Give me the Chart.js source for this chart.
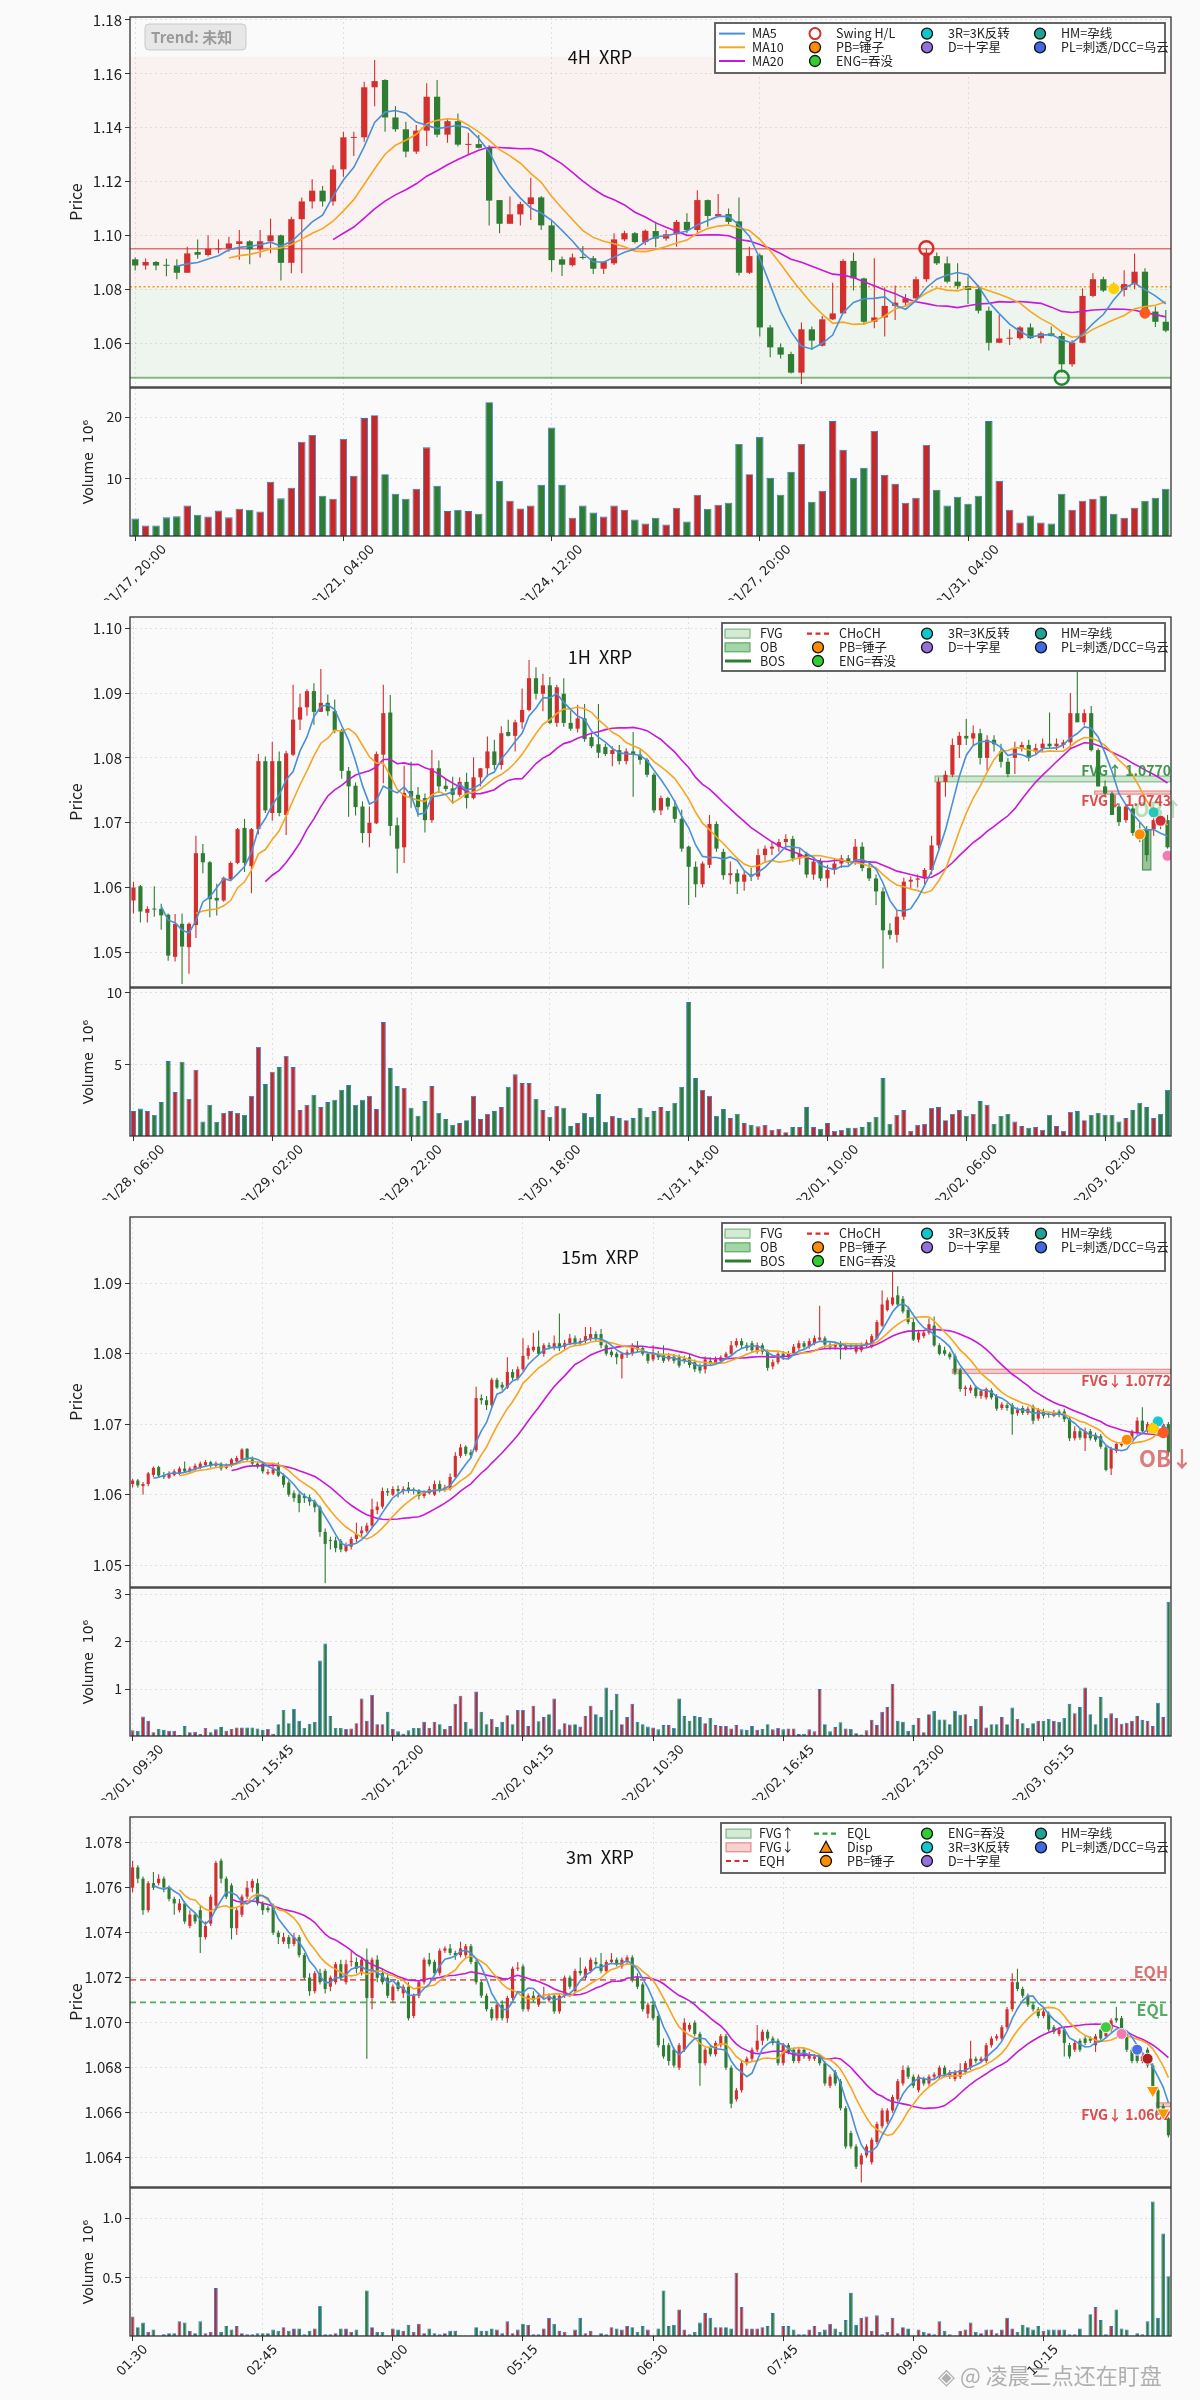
<!DOCTYPE html>
<html><head><meta charset="utf-8">
<script src="https://cdn.jsdelivr.net/npm/chart.js@4.4.1/dist/chart.umd.min.js"></script>
<style>
html,body{margin:0;padding:0;background:#fafafa;}
#wrap{position:relative;width:1200px;height:2400px;overflow:hidden;background:#fafafa;}
.panel{position:absolute;left:0;width:1200px;height:600px;overflow:hidden;}
.panel canvas{position:absolute;left:0;}
#wm{position:absolute;left:938px;top:2358px;font:22px "Noto Sans CJK SC";color:rgba(150,150,150,0.75);white-space:nowrap;z-index:5;}
</style></head><body>
<div id="wrap"></div>
<script>
// ================= DATA =================
// 4H candles [open, high, low, close]
const c4H = [
[1.0911,1.0918,1.0869,1.0888],[1.0888,1.0914,1.0872,1.0901],[1.0901,1.0905,1.0870,1.0888],[1.0889,1.0913,1.0848,1.0887],[1.0888,1.0911,1.0837,1.0861],
[1.0861,1.0958,1.0861,1.0933],[1.0938,1.0985,1.0913,1.0928],[1.0927,1.1000,1.0921,1.0950],[1.0948,1.0985,1.0933,1.0951],[1.0951,1.0995,1.0939,1.0970],
[1.0968,1.1020,1.0909,1.0978],[1.0978,1.0982,1.0893,1.0948],[1.0948,1.1020,1.0918,1.0978],[1.0978,1.1062,1.0933,1.1000],[1.1000,1.1003,1.0832,1.0898],
[1.0898,1.1069,1.0859,1.1060],[1.1060,1.1141,1.0859,1.1126],[1.1126,1.1208,1.1100,1.1166],[1.1166,1.1183,1.1107,1.1126],[1.1126,1.1260,1.1110,1.1245],
[1.1245,1.1385,1.1218,1.1364],[1.1362,1.1385,1.1295,1.1364],[1.1364,1.1571,1.1348,1.1550],[1.1550,1.1651,1.1480,1.1573],[1.1577,1.1580,1.1385,1.1438],
[1.1438,1.1480,1.1385,1.1394],[1.1394,1.1422,1.1290,1.1311],[1.1311,1.1410,1.1302,1.1389],[1.1389,1.1565,1.1332,1.1515],[1.1515,1.1577,1.1364,1.1374],
[1.1374,1.1435,1.1344,1.1424],[1.1424,1.1453,1.1330,1.1337],[1.1336,1.1381,1.1298,1.1338],[1.1339,1.1373,1.1323,1.1325],[1.1325,1.1335,1.1037,1.1129],
[1.1131,1.1131,1.1008,1.1043],[1.1043,1.1144,1.1043,1.1078],[1.1078,1.1125,1.1037,1.1116],[1.1116,1.1214,1.1057,1.1141],[1.1141,1.1146,1.1020,1.1037],
[1.1037,1.1057,1.0865,1.0908],[1.0911,1.0921,1.0849,1.0891],[1.0889,1.0933,1.0884,1.0918],[1.0920,1.0960,1.0910,1.0916],[1.0915,1.0923,1.0856,1.0876],
[1.0876,1.0905,1.0856,1.0901],[1.0896,1.1008,1.0890,1.0985],[1.0985,1.1017,1.0978,1.1008],[1.1008,1.1012,1.0970,1.0975],[1.0975,1.1022,1.0964,1.1017],
[1.1016,1.1051,1.0956,1.0988],[1.0988,1.1020,1.0980,1.1004],[1.1004,1.1057,1.0958,1.1050],[1.1050,1.1082,1.1008,1.1020],[1.1020,1.1168,1.1008,1.1131],
[1.1131,1.1133,1.1032,1.1072],[1.1072,1.1154,1.1070,1.1079],[1.1079,1.1100,1.1042,1.1050],[1.1052,1.1141,1.0851,1.0861],[1.0861,1.0958,1.0856,1.0923],
[1.0926,1.0933,1.0624,1.0658],[1.0658,1.0667,1.0547,1.0584],[1.0584,1.0598,1.0543,1.0557],[1.0559,1.0568,1.0487,1.0490],[1.0490,1.0676,1.0448,1.0651],
[1.0651,1.0661,1.0574,1.0609],[1.0590,1.0700,1.0587,1.0688],[1.0688,1.0824,1.0686,1.0710],[1.0710,1.0911,1.0708,1.0905],[1.0905,1.0936,1.0795,1.0840],
[1.0840,1.0843,1.0667,1.0679],[1.0679,1.0915,1.0655,1.0695],[1.0695,1.0807,1.0624,1.0738],[1.0738,1.0814,1.0686,1.0750],[1.0750,1.0782,1.0735,1.0766],
[1.0766,1.0847,1.0760,1.0837],[1.0837,1.0952,1.0828,1.0936],[1.0923,1.0936,1.0890,1.0896],[1.0896,1.0921,1.0822,1.0828],[1.0828,1.0896,1.0800,1.0812],
[1.0812,1.0847,1.0745,1.0797],[1.0800,1.0816,1.0710,1.0720],[1.0720,1.0735,1.0572,1.0601],[1.0601,1.0704,1.0599,1.0617],[1.0616,1.0651,1.0593,1.0618],
[1.0618,1.0663,1.0612,1.0658],[1.0658,1.0673,1.0615,1.0618],[1.0618,1.0643,1.0599,1.0636],[1.0636,1.0661,1.0624,1.0626],[1.0626,1.0636,1.0490,1.0521],
[1.0521,1.0611,1.0512,1.0601],[1.0601,1.0803,1.0599,1.0775],[1.0775,1.0859,1.0770,1.0837],[1.0837,1.0846,1.0790,1.0795],[1.0800,1.0825,1.0795,1.0797],
[1.0797,1.0870,1.0773,1.0819],[1.0819,1.0933,1.0800,1.0865],[1.0865,1.0878,1.0705,1.0717],[1.0717,1.0736,1.0660,1.0679],[1.0679,1.0723,1.0640,1.0646]
];
const v4H = [3.55,2.42,2.42,3.76,3.92,5.65,4.19,3.87,4.84,3.76,5.16,5.0,4.68,9.52,6.83,8.55,16.0,17.1,7.26,6.77,
16.45,10.48,19.84,20.3,10.75,7.58,6.77,8.39,15.1,8.87,4.78,5.0,4.78,4.35,22.4,9.68,6.45,5.2,5.65,9.03,
18.3,9.03,3.7,5.65,4.52,3.87,5.65,5.0,3.39,2.74,3.7,2.58,5.32,3.06,7.42,5.16,5.81,6.13,15.65,10.75,
16.8,10.16,7.42,11.13,15.65,6.29,8.06,19.35,14.68,10.16,11.77,17.74,10.65,9.19,6.13,6.94,15.48,8.23,5.65,7.1,
5.97,7.26,19.35,9.68,5.0,2.9,4.03,2.9,2.74,7.58,5.0,6.45,6.77,7.26,4.35,3.7,5.32,6.45,6.94,8.39];
const x4H = ['01/17, 20:00','01/21, 04:00','01/24, 12:00','01/27, 20:00','01/31, 04:00'];
const yr4H = [1.04367, 1.18111], yt4H = [1.06,1.08,1.10,1.12,1.14,1.16,1.18];
const vr4H = [0.73, 24.7], vt4H = [10, 20];
const zone4H = [1.1664, 1.0809, 1.0471];          // premium top, equilibrium, discount bottom
const lvl4H = [1.0950, 1.0809, 1.0471];           // swing high line, equilibrium, swing low line
const mk4H = [{i:76,p:1.0952,k:'SH'},{i:89,p:1.0471,k:'SL'},{i:94,p:1.0802,k:'Y'},{i:97,p:1.0711,k:'OR'}];

// 1H candles
const c1H = [
[1.0580,1.0609,1.0560,1.0600],[1.0602,1.0604,1.0546,1.0563],[1.0561,1.0571,1.0546,1.0567],[1.0567,1.0602,1.0555,1.0566],[1.0567,1.0575,1.0535,1.0557],
[1.0558,1.0560,1.0487,1.0495],[1.0493,1.0559,1.0486,1.0544],[1.0544,1.0560,1.0451,1.0509],[1.0508,1.0546,1.0467,1.0544],[1.0542,1.0680,1.0522,1.0653],
[1.0653,1.0667,1.0622,1.0639],[1.0639,1.0641,1.0554,1.0582],[1.0584,1.0606,1.0557,1.0580],[1.0580,1.0617,1.0578,1.0615],[1.0613,1.0640,1.0611,1.0638],
[1.0638,1.0692,1.0636,1.0690],[1.0692,1.0706,1.0624,1.0638],[1.0633,1.0692,1.0591,1.0690],[1.0690,1.0806,1.0682,1.0795],[1.0795,1.0802,1.0715,1.0719],
[1.0715,1.0825,1.0703,1.0795],[1.0795,1.0810,1.0710,1.0715],[1.0712,1.0811,1.0681,1.0807],[1.0805,1.0913,1.0803,1.0859],[1.0859,1.0899,1.0843,1.0878],
[1.0878,1.0906,1.0865,1.0903],[1.0903,1.0915,1.0851,1.0871],[1.0871,1.0937,1.0871,1.0885],[1.0885,1.0898,1.0865,1.0872],[1.0872,1.0890,1.0838,1.0842],
[1.0842,1.0845,1.0768,1.0780],[1.0780,1.0786,1.0709,1.0756],[1.0757,1.0762,1.0711,1.0724],[1.0725,1.0733,1.0669,1.0684],[1.0684,1.0725,1.0662,1.0700],
[1.0699,1.0810,1.0698,1.0806],[1.0805,1.0913,1.0761,1.0869],[1.0870,1.0897,1.0680,1.0695],[1.0696,1.0708,1.0622,1.0660],[1.0662,1.0788,1.0638,1.0746],
[1.0749,1.0794,1.0723,1.0740],[1.0743,1.0755,1.0709,1.0724],[1.0738,1.0745,1.0685,1.0704],[1.0704,1.0812,1.0700,1.0784],[1.0784,1.0796,1.0746,1.0756],
[1.0757,1.0768,1.0748,1.0752],[1.0753,1.0771,1.0729,1.0743],[1.0743,1.0770,1.0740,1.0763],[1.0763,1.0777,1.0722,1.0738],[1.0738,1.0801,1.0736,1.0770],
[1.0770,1.0784,1.0756,1.0784],[1.0784,1.0833,1.0771,1.0810],[1.0810,1.0828,1.0782,1.0789],[1.0789,1.0849,1.0782,1.0838],[1.0840,1.0859,1.0833,1.0834],
[1.0834,1.0859,1.0810,1.0855],[1.0855,1.0907,1.0845,1.0874],[1.0874,1.0951,1.0872,1.0923],[1.0923,1.0940,1.0890,1.0899],[1.0899,1.0930,1.0872,1.0912],
[1.0912,1.0925,1.0852,1.0854],[1.0854,1.0913,1.0848,1.0909],[1.0899,1.0923,1.0848,1.0854],[1.0854,1.0873,1.0842,1.0845],[1.0845,1.0882,1.0839,1.0861],
[1.0861,1.0883,1.0825,1.0829],[1.0832,1.0838,1.0815,1.0818],[1.0821,1.0883,1.0800,1.0808],[1.0817,1.0822,1.0803,1.0806],[1.0806,1.0818,1.0787,1.0812],
[1.0812,1.0820,1.0790,1.0795],[1.0795,1.0815,1.0790,1.0810],[1.0810,1.0840,1.0740,1.0805],[1.0805,1.0812,1.0790,1.0797],[1.0797,1.0800,1.0770,1.0774],
[1.0774,1.0777,1.0715,1.0719],[1.0719,1.0742,1.0712,1.0738],[1.0738,1.0740,1.0720,1.0725],[1.0725,1.0735,1.0700,1.0706],[1.0706,1.0720,1.0655,1.0660],
[1.0663,1.0665,1.0573,1.0632],[1.0632,1.0640,1.0585,1.0605],[1.0605,1.0640,1.0600,1.0637],[1.0635,1.0712,1.0630,1.0698],[1.0698,1.0702,1.0655,1.0660],
[1.0655,1.0660,1.0612,1.0619],[1.0619,1.0640,1.0605,1.0622],[1.0622,1.0628,1.0590,1.0609],[1.0609,1.0625,1.0595,1.0620],[1.0620,1.0630,1.0610,1.0617],
[1.0617,1.0660,1.0612,1.0650],[1.0650,1.0665,1.0640,1.0660],[1.0660,1.0670,1.0650,1.0663],[1.0663,1.0675,1.0655,1.0670],[1.0670,1.0682,1.0660,1.0675],
[1.0675,1.0680,1.0640,1.0645],[1.0645,1.0660,1.0635,1.0652],[1.0652,1.0655,1.0615,1.0620],[1.0620,1.0645,1.0612,1.0640],[1.0640,1.0645,1.0610,1.0614],
[1.0614,1.0635,1.0600,1.0627],[1.0627,1.0645,1.0620,1.0637],[1.0637,1.0650,1.0630,1.0645],[1.0645,1.0650,1.0635,1.0640],[1.0640,1.0675,1.0635,1.0663],
[1.0663,1.0670,1.0625,1.0630],[1.0630,1.0640,1.0610,1.0614],[1.0614,1.0620,1.0573,1.0594],[1.0594,1.0600,1.0475,1.0534],[1.0534,1.0545,1.0520,1.0527],
[1.0527,1.0565,1.0515,1.0555],[1.0555,1.0615,1.0550,1.0609],[1.0609,1.0617,1.0598,1.0612],[1.0612,1.0620,1.0600,1.0614],[1.0614,1.0630,1.0605,1.0627],
[1.0627,1.0680,1.0620,1.0665],[1.0665,1.0770,1.0660,1.0763],[1.0763,1.0780,1.0740,1.0774],[1.0774,1.0830,1.0770,1.0820],[1.0820,1.0840,1.0800,1.0834],
[1.0834,1.0860,1.0820,1.0830],[1.0830,1.0850,1.0820,1.0838],[1.0838,1.0845,1.0790,1.0800],[1.0800,1.0835,1.0780,1.0828],[1.0828,1.0835,1.0810,1.0821],
[1.0810,1.0822,1.0785,1.0794],[1.0794,1.0800,1.0770,1.0775],[1.0800,1.0825,1.0775,1.0815],[1.0815,1.0825,1.0810,1.0820],[1.0820,1.0828,1.0795,1.0800],
[1.0810,1.0822,1.0805,1.0815],[1.0815,1.0830,1.0810,1.0822],[1.0822,1.0870,1.0815,1.0818],[1.0818,1.0830,1.0812,1.0822],[1.0820,1.0828,1.0815,1.0824],
[1.0824,1.0900,1.0815,1.0869],[1.0869,1.0933,1.0855,1.0855],[1.0855,1.0875,1.0850,1.0869],[1.0869,1.0880,1.0810,1.0812],[1.0812,1.0815,1.0756,1.0756],
[1.0756,1.0765,1.0742,1.0745],[1.0745,1.0748,1.0712,1.0712],[1.0725,1.0730,1.0695,1.0701],[1.0704,1.0728,1.0700,1.0725],[1.0722,1.0728,1.0680,1.0684],
[1.0689,1.0700,1.0670,1.0684],[1.0689,1.0695,1.0640,1.0650],[1.0690,1.0720,1.0680,1.0704],[1.0704,1.0710,1.0690,1.0697],[1.0704,1.0712,1.0660,1.0662]
];
const v1H = [1.83,2.0,1.83,1.56,2.45,5.27,3.14,5.23,2.66,4.66,1.1,2.25,1.08,1.7,1.83,1.7,1.56,2.87,6.24,3.69,
4.54,4.86,5.62,4.86,1.9,2.25,2.94,2.1,2.45,2.61,3.28,3.62,2.25,2.61,2.87,1.97,7.96,4.79,3.55,3.42,
2.06,1.51,2.52,3.55,1.7,1.28,0.87,1.0,1.2,2.87,1.28,1.63,1.83,2.1,3.49,4.36,3.76,3.76,2.66,1.9,
1.42,2.18,2.06,0.8,1.0,1.7,1.42,3.0,1.08,1.49,1.35,1.2,1.35,2.04,1.42,1.83,2.1,1.83,2.39,3.49,
9.33,4.1,3.28,2.87,1.49,1.97,1.35,1.63,1.0,0.87,0.78,0.87,0.53,0.6,0.37,0.73,0.73,2.1,0.73,0.6,
1.0,0.46,0.53,0.67,0.67,0.73,1.08,1.42,4.1,0.94,1.56,1.9,0.46,0.87,0.94,2.04,2.1,1.2,1.63,1.9,
1.49,1.63,2.52,2.25,0.94,1.49,1.63,1.1,0.8,0.67,0.73,0.53,1.56,0.8,0.46,1.77,1.83,1.2,1.56,1.7,
1.56,1.56,1.1,1.35,1.9,2.39,2.1,1.35,1.63,3.28];
const x1H = ['01/28, 06:00','01/29, 02:00','01/29, 22:00','01/30, 18:00','01/31, 14:00','02/01, 10:00','02/02, 06:00','02/03, 02:00'];
const yr1H = [1.04465, 1.10174], yt1H = [1.05,1.06,1.07,1.08,1.09,1.10];
const vr1H = [0.11, 10.3], vt1H = [5, 10];
const fvg1H = [[116, 1.0763, 1.0772, 1], [139, 1.0744, 1.0749, -1]];   // [start index, low, high, direction]
const ob1H = [145.4, 146.6, 1.0627, 1.0689];
const mk1H = [{i:145,p:1.0682,k:'PB'},{i:147,p:1.0716,k:'CY'},{i:148,p:1.0703,k:'DR'},{i:149,p:1.0649,k:'PK'}];

// 15m candles
const c15 = [
[1.0615,1.0622,1.0610,1.0620],[1.0620,1.0622,1.0610,1.0613],[1.0612,1.0618,1.0600,1.0615],[1.0615,1.0632,1.0612,1.0630],[1.0628,1.0640,1.0625,1.0638],
[1.0639,1.0641,1.0625,1.0627],[1.0627,1.0632,1.0622,1.0625],[1.0624,1.0633,1.0622,1.0630],[1.0628,1.0636,1.0626,1.0633],[1.0630,1.0640,1.0628,1.0637],
[1.0637,1.0647,1.0631,1.0633],[1.0633,1.0640,1.0630,1.0637],[1.0636,1.0644,1.0634,1.0641],[1.0638,1.0647,1.0636,1.0644],[1.0642,1.0649,1.0640,1.0646],
[1.0646,1.0648,1.0638,1.0641],[1.0641,1.0647,1.0639,1.0644],[1.0644,1.0646,1.0634,1.0637],[1.0638,1.0644,1.0636,1.0642],[1.0641,1.0652,1.0639,1.0650],
[1.0647,1.0655,1.0645,1.0652],[1.0650,1.0666,1.0648,1.0664],[1.0665,1.0666,1.0648,1.0650],[1.0650,1.0654,1.0641,1.0644],[1.0644,1.0647,1.0637,1.0640],
[1.0644,1.0646,1.0630,1.0633],[1.0630,1.0636,1.0628,1.0632],[1.0630,1.0645,1.0628,1.0636],[1.0640,1.0646,1.0625,1.0627],[1.0627,1.0630,1.0610,1.0614],
[1.0617,1.0620,1.0597,1.0600],[1.0602,1.0606,1.0590,1.0595],[1.0600,1.0603,1.0575,1.0588],[1.0598,1.0602,1.0588,1.0595],[1.0596,1.0600,1.0584,1.0590],
[1.0590,1.0593,1.0575,1.0582],[1.0582,1.0585,1.0540,1.0547],[1.0547,1.0552,1.0474,1.0530],[1.0535,1.0540,1.0522,1.0534],[1.0535,1.0540,1.0518,1.0524],
[1.0534,1.0537,1.0518,1.0522],[1.0520,1.0532,1.0518,1.0528],[1.0526,1.0540,1.0522,1.0537],[1.0537,1.0560,1.0532,1.0544],[1.0545,1.0555,1.0540,1.0549],
[1.0548,1.0560,1.0545,1.0556],[1.0556,1.0594,1.0552,1.0579],[1.0578,1.0590,1.0572,1.0583],[1.0583,1.0610,1.0580,1.0605],[1.0605,1.0609,1.0598,1.0603],
[1.0600,1.0612,1.0598,1.0608],[1.0608,1.0613,1.0596,1.0605],[1.0605,1.0612,1.0600,1.0608],[1.0610,1.0618,1.0602,1.0606],[1.0607,1.0610,1.0600,1.0606],
[1.0606,1.0608,1.0593,1.0598],[1.0598,1.0606,1.0595,1.0603],[1.0602,1.0612,1.0600,1.0608],[1.0600,1.0620,1.0598,1.0615],[1.0615,1.0620,1.0603,1.0607],
[1.0607,1.0614,1.0604,1.0610],[1.0608,1.0630,1.0606,1.0625],[1.0625,1.0660,1.0622,1.0655],[1.0655,1.0672,1.0652,1.0667],[1.0668,1.0670,1.0655,1.0658],
[1.0660,1.0664,1.0652,1.0656],[1.0663,1.0753,1.0660,1.0737],[1.0737,1.0742,1.0728,1.0734],[1.0734,1.0740,1.0720,1.0727],[1.0727,1.0766,1.0724,1.0763],
[1.0763,1.0766,1.0750,1.0752],[1.0756,1.0760,1.0748,1.0752],[1.0752,1.0795,1.0750,1.0774],[1.0774,1.0778,1.0762,1.0766],[1.0765,1.0782,1.0762,1.0778],
[1.0778,1.0822,1.0775,1.0797],[1.0797,1.0812,1.0792,1.0808],[1.0805,1.0830,1.0802,1.0810],[1.0810,1.0833,1.0798,1.0800],[1.0800,1.0815,1.0796,1.0812],
[1.0812,1.0816,1.0806,1.0810],[1.0808,1.0826,1.0805,1.0815],[1.0815,1.0857,1.0804,1.0808],[1.0810,1.0820,1.0806,1.0815],[1.0815,1.0828,1.0812,1.0822],
[1.0822,1.0826,1.0812,1.0815],[1.0815,1.0822,1.0812,1.0818],[1.0818,1.0838,1.0815,1.0825],[1.0822,1.0838,1.0818,1.0828],[1.0828,1.0832,1.0818,1.0822],
[1.0828,1.0835,1.0808,1.0812],[1.0812,1.0815,1.0797,1.0800],[1.0803,1.0806,1.0795,1.0798],[1.0800,1.0803,1.0785,1.0795],[1.0793,1.0803,1.0765,1.0800],
[1.0798,1.0806,1.0794,1.0802],[1.0800,1.0815,1.0797,1.0810],[1.0810,1.0818,1.0802,1.0806],[1.0808,1.0811,1.0797,1.0800],[1.0800,1.0803,1.0786,1.0790],
[1.0792,1.0812,1.0789,1.0800],[1.0800,1.0804,1.0791,1.0795],[1.0798,1.0812,1.0787,1.0790],[1.0792,1.0801,1.0789,1.0797],[1.0796,1.0800,1.0786,1.0790],
[1.0795,1.0799,1.0780,1.0783],[1.0793,1.0797,1.0786,1.0790],[1.0795,1.0800,1.0780,1.0784],[1.0788,1.0792,1.0774,1.0778],[1.0782,1.0786,1.0772,1.0776],
[1.0778,1.0796,1.0772,1.0792],[1.0790,1.0795,1.0783,1.0787],[1.0787,1.0796,1.0784,1.0792],[1.0790,1.0798,1.0788,1.0795],[1.0795,1.0803,1.0792,1.0800],
[1.0800,1.0818,1.0798,1.0812],[1.0812,1.0822,1.0809,1.0818],[1.0818,1.0822,1.0808,1.0812],[1.0812,1.0816,1.0804,1.0808],[1.0815,1.0818,1.0801,1.0805],
[1.0803,1.0816,1.0800,1.0812],[1.0812,1.0815,1.0799,1.0803],[1.0803,1.0806,1.0776,1.0780],[1.0782,1.0792,1.0778,1.0788],[1.0788,1.0804,1.0785,1.0800],
[1.0800,1.0804,1.0791,1.0795],[1.0795,1.0804,1.0792,1.0800],[1.0800,1.0814,1.0797,1.0810],[1.0808,1.0819,1.0805,1.0815],[1.0815,1.0818,1.0806,1.0810],
[1.0810,1.0822,1.0807,1.0818],[1.0815,1.0826,1.0812,1.0822],[1.0820,1.0868,1.0817,1.0823],[1.0822,1.0825,1.0808,1.0813],[1.0813,1.0817,1.0806,1.0810],
[1.0810,1.0817,1.0806,1.0813],[1.0815,1.0818,1.0792,1.0810],[1.0808,1.0815,1.0805,1.0812],[1.0812,1.0815,1.0806,1.0810],[1.0803,1.0815,1.0800,1.0812],
[1.0805,1.0816,1.0802,1.0813],[1.0812,1.0820,1.0809,1.0816],[1.0810,1.0828,1.0808,1.0825],[1.0822,1.0848,1.0820,1.0845],[1.0840,1.0890,1.0838,1.0870],
[1.0862,1.0880,1.0860,1.0876],[1.0870,1.0931,1.0868,1.0880],[1.0883,1.0896,1.0866,1.0870],[1.0878,1.0882,1.0857,1.0860],[1.0862,1.0866,1.0842,1.0845],
[1.0845,1.0850,1.0818,1.0820],[1.0820,1.0834,1.0816,1.0830],[1.0825,1.0834,1.0822,1.0830],[1.0830,1.0850,1.0827,1.0842],[1.0840,1.0853,1.0810,1.0812],
[1.0812,1.0815,1.0798,1.0800],[1.0805,1.0810,1.0797,1.0800],[1.0800,1.0803,1.0792,1.0795],[1.0797,1.0800,1.0770,1.0773],[1.0777,1.0780,1.0746,1.0750],
[1.0750,1.0755,1.0740,1.0752],[1.0748,1.0756,1.0744,1.0752],[1.0752,1.0755,1.0737,1.0740],[1.0740,1.0750,1.0736,1.0747],[1.0738,1.0752,1.0735,1.0750],
[1.0748,1.0751,1.0735,1.0738],[1.0740,1.0743,1.0719,1.0722],[1.0723,1.0731,1.0720,1.0728],[1.0727,1.0730,1.0719,1.0723],[1.0727,1.0730,1.0685,1.0714],
[1.0716,1.0724,1.0712,1.0720],[1.0723,1.0726,1.0713,1.0716],[1.0716,1.0725,1.0713,1.0722],[1.0725,1.0728,1.0700,1.0705],[1.0708,1.0723,1.0705,1.0720],
[1.0718,1.0722,1.0708,1.0712],[1.0714,1.0717,1.0709,1.0713],[1.0712,1.0720,1.0710,1.0717],[1.0718,1.0721,1.0710,1.0713],[1.0718,1.0722,1.0703,1.0707],
[1.0708,1.0711,1.0676,1.0680],[1.0680,1.0697,1.0677,1.0690],[1.0690,1.0693,1.0678,1.0681],[1.0680,1.0695,1.0662,1.0690],[1.0690,1.0693,1.0677,1.0680],
[1.0685,1.0688,1.0675,1.0678],[1.0683,1.0686,1.0665,1.0668],[1.0667,1.0670,1.0633,1.0635],[1.0637,1.0668,1.0628,1.0665],[1.0662,1.0675,1.0659,1.0672],
[1.0670,1.0676,1.0668,1.0672],[1.0672,1.0680,1.0670,1.0677],[1.0675,1.0692,1.0673,1.0690],[1.0687,1.0710,1.0685,1.0705],[1.0705,1.0724,1.0688,1.0690],
[1.0690,1.0703,1.0688,1.0700],[1.0698,1.0706,1.0695,1.0702],[1.0702,1.0706,1.0694,1.0698],[1.0695,1.0703,1.0692,1.0700],[1.0700,1.0703,1.0656,1.0660]
];
const v15 = [0.13,0.12,0.42,0.33,0.09,0.16,0.14,0.12,0.12,0.03,0.22,
0.09,0.1,0.06,0.18,0.09,0.15,0.2,0.12,0.16,0.19,0.19,0.19,
0.19,0.17,0.14,0.16,0.06,0.26,0.56,0.28,
0.58,0.33,0.18,0.27,0.31,1.6,1.96,0.43,0.18,0.18,
0.16,0.17,0.28,0.8,0.33,0.88,0.26,0.26,0.52,0.16,
0.11,0.06,0.13,0.18,0.18,0.31,0.18,0.31,0.26,0.16,
0.22,0.69,0.86,0.31,0.17,0.95,0.52,0.26,0.37,0.2,
0.31,0.45,0.26,0.56,0.56,0.22,0.65,0.32,0.41,0.47,
0.8,0.15,0.28,0.25,0.26,0.21,0.43,0.65,0.47,0.41,
1.03,0.56,0.9,0.26,0.41,0.69,0.31,0.26,0.21,0.19,
0.15,0.24,0.24,0.18,0.8,0.43,0.33,0.43,0.41,0.28,
0.39,0.24,0.22,0.22,0.17,0.24,0.15,0.14,0.22,0.14,
0.16,0.26,0.15,0.18,0.15,0.17,0.17,0.05,0.06,0.15,
0.11,1.0,0.26,0.11,0.2,0.3,0.17,0.16,0.07,0.04,
0.13,0.35,0.24,0.52,0.62,1.11,0.33,0.31,0.12,0.24,
0.39,0.09,0.47,0.54,0.36,0.36,0.26,0.54,0.46,0.47,
0.22,0.37,0.65,0.19,0.26,0.26,0.41,0.26,0.61,0.37,
0.28,0.18,0.28,0.33,0.33,0.37,0.33,0.31,0.39,0.69,
0.49,0.62,1.03,0.47,0.26,0.83,0.39,0.49,0.39,0.27,
0.29,0.33,0.43,0.35,0.33,0.22,0.71,0.41,2.84];
const x15 = ['02/01, 09:30','02/01, 15:45','02/01, 22:00','02/02, 04:15','02/02, 10:30','02/02, 16:45','02/02, 23:00','02/03, 05:15'];
const yr15 = [1.04688, 1.09942], yt15 = [1.05,1.06,1.07,1.08,1.09];
const vr15 = [0.01, 3.13], vt15 = [1, 2, 3];
const fvg15 = [[158, 1.0772, 1.0778, -1]];
const mk15 = [{i:191,p:1.0678,k:'PB'},{i:196,p:1.0694,k:'Y'},{i:197,p:1.0704,k:'CY'},{i:198,p:1.0688,k:'OR'}];

// 3m candles
const c3m = [
[1.0760,1.0772,1.0758,1.0769],[1.0769,1.0770,1.0762,1.0764],[1.0764,1.0765,1.0748,1.0750],[1.0750,1.0763,1.0749,1.0762],[1.0762,1.0767,1.0759,1.0760],
[1.0762,1.0766,1.0761,1.0764],[1.0764,1.0765,1.0758,1.0760],[1.0760,1.0761,1.0754,1.0755],[1.0755,1.0756,1.0748,1.0753],[1.0750,1.0755,1.0749,1.0753],
[1.0753,1.0754,1.0744,1.0745],[1.0743,1.0750,1.0742,1.0748],[1.0748,1.0749,1.0744,1.0745],[1.0750,1.0752,1.0731,1.0738],[1.0738,1.0745,1.0737,1.0743],
[1.0744,1.0757,1.0743,1.0756],[1.0752,1.0772,1.0750,1.0771],[1.0772,1.0773,1.0762,1.0764],[1.0764,1.0765,1.0755,1.0756],[1.0761,1.0762,1.0737,1.0742],
[1.0742,1.0751,1.0739,1.0750],[1.0748,1.0757,1.0747,1.0756],[1.0756,1.0763,1.0755,1.0760],[1.0760,1.0764,1.0758,1.0763],[1.0762,1.0764,1.0752,1.0753],
[1.0753,1.0754,1.0748,1.0750],[1.0751,1.0752,1.0749,1.0750],[1.0752,1.0753,1.0739,1.0740],[1.0740,1.0741,1.0735,1.0738],[1.0736,1.0740,1.0735,1.0738],
[1.0738,1.0739,1.0733,1.0735],[1.0735,1.0740,1.0734,1.0738],[1.0738,1.0739,1.0729,1.0730],[1.0730,1.0731,1.0719,1.0720],[1.0720,1.0722,1.0712,1.0714],
[1.0714,1.0723,1.0713,1.0722],[1.0722,1.0724,1.0717,1.0718],[1.0723,1.0724,1.0713,1.0715],[1.0716,1.0721,1.0714,1.0720],[1.0718,1.0727,1.0717,1.0726],
[1.0726,1.0728,1.0719,1.0720],[1.0718,1.0728,1.0717,1.0726],[1.0727,1.0732,1.0725,1.0727],[1.0727,1.0729,1.0722,1.0724],[1.0722,1.0729,1.0721,1.0728],
[1.0728,1.0733,1.0684,1.0711],[1.0711,1.0729,1.0706,1.0728],[1.0728,1.0730,1.0718,1.0720],[1.0722,1.0724,1.0717,1.0718],[1.0720,1.0722,1.0711,1.0712],
[1.0710,1.0717,1.0709,1.0716],[1.0718,1.0719,1.0714,1.0715],[1.0713,1.0717,1.0711,1.0716],[1.0716,1.0718,1.0701,1.0702],[1.0703,1.0713,1.0702,1.0712],
[1.0712,1.0719,1.0711,1.0718],[1.0718,1.0729,1.0717,1.0728],[1.0728,1.0731,1.0725,1.0726],[1.0727,1.0728,1.0721,1.0722],[1.0722,1.0733,1.0721,1.0732],
[1.0732,1.0734,1.0731,1.0733],[1.0733,1.0735,1.0730,1.0731],[1.0731,1.0732,1.0728,1.0730],[1.0730,1.0736,1.0729,1.0733],[1.0730,1.0735,1.0729,1.0734],
[1.0734,1.0735,1.0726,1.0727],[1.0727,1.0728,1.0717,1.0718],[1.0718,1.0719,1.0711,1.0712],[1.0712,1.0713,1.0705,1.0706],[1.0706,1.0707,1.0701,1.0702],
[1.0702,1.0709,1.0701,1.0708],[1.0708,1.0710,1.0701,1.0702],[1.0702,1.0712,1.0700,1.0711],[1.0711,1.0725,1.0710,1.0724],[1.0724,1.0727,1.0723,1.0724],
[1.0725,1.0726,1.0705,1.0706],[1.0706,1.0713,1.0705,1.0712],[1.0712,1.0714,1.0709,1.0710],[1.0708,1.0713,1.0707,1.0712],[1.0712,1.0716,1.0711,1.0712],
[1.0710,1.0713,1.0709,1.0712],[1.0712,1.0713,1.0704,1.0705],[1.0705,1.0713,1.0704,1.0712],[1.0712,1.0721,1.0711,1.0720],[1.0720,1.0721,1.0715,1.0716],
[1.0714,1.0724,1.0713,1.0723],[1.0723,1.0729,1.0721,1.0722],[1.0720,1.0725,1.0719,1.0724],[1.0723,1.0729,1.0722,1.0728],[1.0727,1.0729,1.0725,1.0726],
[1.0726,1.0731,1.0722,1.0723],[1.0723,1.0728,1.0722,1.0727],[1.0727,1.0731,1.0726,1.0728],[1.0728,1.0729,1.0725,1.0726],[1.0725,1.0729,1.0724,1.0728],
[1.0727,1.0730,1.0726,1.0729],[1.0729,1.0730,1.0718,1.0719],[1.0720,1.0722,1.0715,1.0716],[1.0717,1.0718,1.0705,1.0706],[1.0704,1.0709,1.0702,1.0708],
[1.0708,1.0710,1.0701,1.0702],[1.0703,1.0705,1.0689,1.0690],[1.0690,1.0693,1.0684,1.0685],[1.0690,1.0691,1.0681,1.0683],[1.0688,1.0689,1.0680,1.0681],
[1.0680,1.0691,1.0679,1.0690],[1.0688,1.0702,1.0687,1.0700],[1.0697,1.0700,1.0696,1.0699],[1.0700,1.0701,1.0694,1.0695],[1.0695,1.0696,1.0672,1.0682],
[1.0682,1.0689,1.0681,1.0688],[1.0689,1.0690,1.0685,1.0686],[1.0686,1.0692,1.0685,1.0691],[1.0690,1.0695,1.0689,1.0694],[1.0694,1.0695,1.0679,1.0680],
[1.0680,1.0681,1.0662,1.0664],[1.0666,1.0671,1.0665,1.0670],[1.0670,1.0683,1.0669,1.0682],[1.0682,1.0685,1.0681,1.0684],[1.0684,1.0689,1.0683,1.0688],
[1.0688,1.0699,1.0687,1.0692],[1.0692,1.0697,1.0690,1.0696],[1.0696,1.0697,1.0692,1.0693],[1.0693,1.0694,1.0690,1.0691],[1.0692,1.0693,1.0681,1.0682],
[1.0682,1.0691,1.0681,1.0690],[1.0690,1.0691,1.0686,1.0687],[1.0688,1.0689,1.0682,1.0683],[1.0683,1.0689,1.0682,1.0688],[1.0688,1.0689,1.0684,1.0685],
[1.0684,1.0687,1.0683,1.0686],[1.0684,1.0686,1.0683,1.0685],[1.0685,1.0686,1.0681,1.0682],[1.0682,1.0683,1.0672,1.0673],[1.0672,1.0677,1.0671,1.0676],
[1.0678,1.0679,1.0672,1.0673],[1.0674,1.0675,1.0661,1.0662],[1.0662,1.0663,1.0644,1.0645],[1.0651,1.0652,1.0644,1.0645],[1.0645,1.0646,1.0635,1.0636],
[1.0637,1.0642,1.0629,1.0641],[1.0641,1.0646,1.0640,1.0645],[1.0638,1.0649,1.0637,1.0648],[1.0647,1.0656,1.0646,1.0655],[1.0654,1.0662,1.0653,1.0661],
[1.0656,1.0662,1.0655,1.0661],[1.0661,1.0668,1.0660,1.0667],[1.0666,1.0675,1.0665,1.0674],[1.0673,1.0681,1.0672,1.0679],[1.0680,1.0681,1.0675,1.0676],
[1.0676,1.0677,1.0671,1.0672],[1.0670,1.0677,1.0669,1.0676],[1.0675,1.0676,1.0672,1.0673],[1.0673,1.0677,1.0672,1.0676],[1.0676,1.0678,1.0675,1.0677],
[1.0676,1.0681,1.0675,1.0680],[1.0680,1.0681,1.0676,1.0677],[1.0676,1.0679,1.0675,1.0678],[1.0675,1.0679,1.0674,1.0678],[1.0676,1.0682,1.0675,1.0679],
[1.0678,1.0683,1.0677,1.0682],[1.0680,1.0692,1.0679,1.0684],[1.0684,1.0685,1.0682,1.0683],[1.0683,1.0685,1.0682,1.0684],[1.0683,1.0691,1.0682,1.0690],
[1.0690,1.0694,1.0689,1.0693],[1.0693,1.0695,1.0692,1.0694],[1.0693,1.0699,1.0692,1.0698],[1.0698,1.0707,1.0697,1.0706],[1.0706,1.0722,1.0705,1.0718],
[1.0718,1.0724,1.0714,1.0715],[1.0715,1.0716,1.0711,1.0712],[1.0712,1.0713,1.0707,1.0708],[1.0708,1.0709,1.0705,1.0706],[1.0706,1.0707,1.0702,1.0703],
[1.0703,1.0706,1.0702,1.0705],[1.0704,1.0705,1.0696,1.0697],[1.0698,1.0699,1.0695,1.0696],[1.0695,1.0698,1.0694,1.0697],[1.0697,1.0698,1.0685,1.0691],
[1.0690,1.0691,1.0684,1.0685],[1.0688,1.0692,1.0687,1.0691],[1.0692,1.0693,1.0687,1.0688],[1.0693,1.0694,1.0690,1.0691],[1.0693,1.0694,1.0691,1.0692],
[1.0690,1.0695,1.0687,1.0694],[1.0697,1.0698,1.0692,1.0693],[1.0694,1.0698,1.0693,1.0697],[1.0697,1.0702,1.0696,1.0701],[1.0702,1.0707,1.0700,1.0701],
[1.0702,1.0703,1.0694,1.0695],[1.0695,1.0696,1.0687,1.0688],[1.0688,1.0689,1.0682,1.0683],[1.0687,1.0688,1.0682,1.0683],[1.0683,1.0686,1.0682,1.0685],
[1.0688,1.0689,1.0680,1.0681],[1.0681,1.0682,1.0669,1.0670],[1.0670,1.0671,1.0660,1.0661],[1.0663,1.0664,1.0659,1.0660],[1.0657,1.0658,1.0649,1.0650]
];
const v3m = [0.17,0.08,0.12,0.04,0.06,0.01,0.02,0.03,0.03,0.13,0.12,
0.05,0.03,0.13,0.03,0.04,0.41,0.04,0.09,0.06,0.09,
0.03,0.02,0.02,0.03,0.03,0.03,0.06,0.05,0.08,0.05,
0.07,0.07,0.02,0.05,0.07,0.26,0.02,0.02,0.03,0.07,
0.07,0.04,0.06,0.01,0.39,0.08,0.04,0.04,0.01,0.07,
0.06,0.05,0.1,0.04,0.11,0.03,0.07,0.03,0.02,0.03,
0.05,0.05,0.01,0.01,0.01,0.08,0.05,0.05,0.07,0.06,
0.03,0.13,0.03,0.06,0.11,0.1,0.02,0.02,0.07,0.16,
0.11,0.05,0.04,0.01,0.06,0.16,0.03,0.05,0.01,0.03,
0.02,0.08,0.07,0.06,0.09,0.08,0.04,0.09,0.06,0.01,
0.07,0.39,0.09,0.1,0.23,0.06,0.02,0.04,0.12,0.2,
0.16,0.08,0.08,0.08,0.07,0.54,0.25,0.07,0.07,0.07,
0.08,0.09,0.2,0.01,0.09,0.09,0.06,0.02,0.02,0.06,
0.09,0.04,0.06,0.11,0.07,0.04,0.14,0.37,0.1,0.16,
0.17,0.05,0.18,0.02,0.04,0.16,0.03,0.08,0.07,0.01,
0.06,0.04,0.03,0.02,0.13,0.05,0.02,0.01,0.05,0.06,
0.12,0.04,0.03,0.06,0.06,0.03,0.06,0.16,0.07,0.04,
0.1,0.08,0.06,0.09,0.05,0.06,0.06,0.06,0.06,0.02,
0.02,0.07,0.01,0.19,0.25,0.14,0.02,0.09,0.23,0.07,
0.06,0.01,0.03,0.02,0.13,1.14,0.16,0.87,0.51];
const x3m = ['01:30','02:45','04:00','05:15','06:30','07:45','09:00','10:15'];
const yr3m = [1.0627, 1.07914], yt3m = [1.064,1.066,1.068,1.070,1.072,1.074,1.076,1.078];
const vr3m = [0.006, 1.254], vt3m = [0.5, 1.0];
const eq3m = [1.0719, 1.0709];                    // EQH, EQL
const fvg3m = [[197.2, 1.06627, 1.06644, -1]];
const mk3m = [{i:187,p:1.0698,k:'ENG'},{i:190,p:1.0695,k:'PK'},{i:193,p:1.0688,k:'BL'},{i:195,p:1.0684,k:'DR2'},{i:196,p:1.0670,k:'DISP'},{i:198,p:1.0660,k:'DISP'}];

// ================= STYLE =================
Chart.defaults.font.family = '"Noto Sans CJK SC","Noto Sans",sans-serif';
Chart.defaults.color = '#222';
const RED='#d32f2f', GREEN='#2e7d32', VRED='#c62828', VGREEN='#2e7d32';
const MA_COL=['#4a90d9','#f5a623','#c71ad6'];
const GRID='rgba(0,0,0,0.13)';
const FONT='"Noto Sans CJK SC"';
const C_CY='#12c6d0', C_PU='#9370db', C_TE='#1fa396', C_BL='#4169e1', C_OR='#ff8c00', C_GR='#32cd32';
const MK = {SH:{c:'#d32f2f',open:true,r:7}, SL:{c:'#1e8a32',open:true,r:7}, Y:{c:'#ffd000',edge:'rgba(0,0,0,0)'}, OR:{c:'#ff5a1f',edge:'rgba(0,0,0,0)'},
  PB:{c:'#ff8c00'}, CY:{c:'#14c8d4'}, DR:{c:'#d32f3a'}, PK:{c:'#f27bb0'}, ENG:{c:'#3ccf3c'}, BL:{c:'#4a6fe3'}, DR2:{c:'#b02020'}, DISP:{c:'#ff9500',tri:true,r:7.5}};

const LEG_MA = {box:[715,23,450,50], items:[
 [719,752,0,'line',MA_COL[0],'MA5'],[719,752,1,'line',MA_COL[1],'MA10'],[719,752,2,'line',MA_COL[2],'MA20'],
 [815,836,0,'ocircle','#d32f2f','Swing H/L'],[815,836,1,'circle',C_OR,'PB=锤子'],[815,836,2,'circle',C_GR,'ENG=吞没'],
 [927,948,0,'circle',C_CY,'3R=3K反转'],[927,948,1,'circle',C_PU,'D=十字星'],
 [1040,1061,0,'circle',C_TE,'HM=孕线'],[1040,1061,1,'circle',C_BL,'PL=刺透/DCC=乌云']]};
const LEG_SMC = {box:[722,23,443,48], items:[
 [725,760,0,'rect',['rgba(129,199,132,0.35)','rgba(56,142,60,0.6)'],'FVG'],
 [725,760,1,'rect',['rgba(102,187,106,0.6)','rgba(56,142,60,0.7)'],'OB'],
 [725,760,2,'line','#2e7d32','BOS'],
 [807,839,0,'dash','#d32f2f','CHoCH'],[818,839,1,'circle',C_OR,'PB=锤子'],[818,839,2,'circle',C_GR,'ENG=吞没'],
 [927,948,0,'circle',C_CY,'3R=3K反转'],[927,948,1,'circle',C_PU,'D=十字星'],
 [1041,1061,0,'circle',C_TE,'HM=孕线'],[1041,1061,1,'circle',C_BL,'PL=刺透/DCC=乌云']]};
const LEG_3M = {box:[721,23,444,50], items:[
 [726,759,0,'rect',['rgba(129,199,132,0.35)','rgba(56,142,60,0.6)'],'FVG↑'],
 [726,759,1,'rect',['rgba(239,154,154,0.45)','rgba(211,47,47,0.5)'],'FVG↓'],
 [726,759,2,'dash','#d32f2f','EQH'],
 [814,847,0,'dash','#2e9e3e','EQL'],[826,847,1,'tri',C_OR,'Disp'],[826,847,2,'circle',C_OR,'PB=锤子'],
 [927,948,0,'circle',C_GR,'ENG=吞没'],[927,948,1,'circle',C_CY,'3R=3K反转'],[927,948,2,'circle',C_PU,'D=十字星'],
 [1041,1061,0,'circle',C_TE,'HM=孕线'],[1041,1061,1,'circle',C_BL,'PL=刺透/DCC=乌云']]};

// ================= HELPERS =================
function hp(ch){const xs=ch.scales.x, ys=ch.scales.y; return {X:v=>xs.getPixelForValue(v), Y:v=>ys.getPixelForValue(v), a:ch.chartArea};}
function hline(ctx,a,y,col,w,dash){ctx.save();ctx.strokeStyle=col;ctx.lineWidth=w;ctx.setLineDash(dash);ctx.beginPath();ctx.moveTo(a.left,y);ctx.lineTo(a.right,y);ctx.stroke();ctx.restore();}
function rect(ctx,x0,y0,x1,y1,fill,stroke,lw){ctx.save();if(fill){ctx.fillStyle=fill;ctx.fillRect(x0,y0,x1-x0,y1-y0);}if(stroke){ctx.strokeStyle=stroke;ctx.lineWidth=lw||1;ctx.strokeRect(x0,y0,x1-x0,y1-y0);}ctx.restore();}
function text(ctx,s,x,y,font,col,align){ctx.save();ctx.font=font;ctx.fillStyle=col;ctx.textAlign=align||'left';ctx.textBaseline='middle';ctx.fillText(s,x,y);ctx.restore();}
function fvgBand(ctx,h,f){const up=f[3]>0;rect(ctx,h.X(f[0]-0.5),h.Y(f[2]),h.a.right,h.Y(f[1]),up?'rgba(102,187,106,0.28)':'rgba(229,115,115,0.35)',up?'rgba(56,142,60,0.55)':'rgba(211,47,47,0.45)',1.2);}
function frame(ctx,a){ctx.save();ctx.strokeStyle='#333';ctx.lineWidth=1.3;ctx.strokeRect(a.left,a.top,a.right-a.left,a.bottom-a.top);ctx.restore();}
function vlabel(ctx,s,x,yc,font){ctx.save();ctx.translate(x,yc);ctx.rotate(-Math.PI/2);ctx.font=font;ctx.fillStyle='#222';ctx.textAlign='center';ctx.textBaseline='middle';ctx.fillText(s,0,0);ctx.restore();}
function maPoints(C,n){const out=[];for(let i=n-1;i<C.length;i++){let s=0;for(let k=i-n+1;k<=i;k++)s+=C[k][3];out.push({x:i,y:s/n});}return out;}

function drawLegend(ctx,L){
  const [bx,by,bw,bh]=L.box;
  ctx.save();
  ctx.fillStyle='rgba(255,255,255,0.93)';ctx.fillRect(bx,by,bw,bh);
  ctx.strokeStyle='#555';ctx.lineWidth=1.8;ctx.strokeRect(bx,by,bw,bh);
  const rows=[by+10.6,by+24.3,by+38];
  L.items.forEach(([hx,tx,r,type,col,label])=>{
    const y=rows[r];
    ctx.save();
    if(type==='line'){ctx.strokeStyle=col;ctx.lineWidth=(label==='BOS')?3:2;ctx.beginPath();ctx.moveTo(hx,y);ctx.lineTo(hx+26,y);ctx.stroke();}
    else if(type==='dash'){ctx.strokeStyle=col;ctx.lineWidth=2.2;ctx.setLineDash([5,3.5]);ctx.beginPath();ctx.moveTo(hx,y);ctx.lineTo(hx+24,y);ctx.stroke();}
    else if(type==='rect'){ctx.fillStyle=col[0];ctx.fillRect(hx,y-4.5,25,9);ctx.strokeStyle=col[1];ctx.lineWidth=1.2;ctx.strokeRect(hx,y-4.5,25,9);}
    else if(type==='circle'){ctx.beginPath();ctx.arc(hx,y,5.5,0,Math.PI*2);ctx.fillStyle=col;ctx.fill();ctx.strokeStyle='#111';ctx.lineWidth=1.3;ctx.stroke();}
    else if(type==='ocircle'){ctx.beginPath();ctx.arc(hx,y,5.5,0,Math.PI*2);ctx.strokeStyle=col;ctx.lineWidth=2;ctx.stroke();}
    else if(type==='tri'){ctx.beginPath();ctx.moveTo(hx,y-6);ctx.lineTo(hx+6,y+5);ctx.lineTo(hx-6,y+5);ctx.closePath();ctx.fillStyle=col;ctx.fill();ctx.strokeStyle='#111';ctx.lineWidth=1.3;ctx.stroke();}
    ctx.restore();
    text(ctx,label,tx,y,'12.5px '+FONT,'#222','left');
  });
  ctx.restore();
}

// ================= PANEL EXTRAS =================
function before4H(ch,ctx,h){
  const a=h.a;
  ctx.fillStyle='rgba(244,67,54,0.045)';ctx.fillRect(a.left,h.Y(zone4H[0]),a.right-a.left,h.Y(zone4H[1])-h.Y(zone4H[0]));
  ctx.fillStyle='rgba(76,175,80,0.065)';ctx.fillRect(a.left,h.Y(zone4H[1]),a.right-a.left,h.Y(zone4H[2])-h.Y(zone4H[1]));
  hline(ctx,a,h.Y(lvl4H[0]),'rgba(211,47,47,0.65)',1.5,[]);
  hline(ctx,a,h.Y(lvl4H[1]),'rgba(255,152,0,0.95)',1.6,[2,2.5]);
  hline(ctx,a,h.Y(lvl4H[2]),'rgba(56,142,60,0.6)',2,[]);
}
function after4H(ch,ctx,h){
  ctx.save();
  const x=145,y=24,w=101,hh=26,r=4;
  ctx.beginPath();ctx.moveTo(x+r,y);ctx.lineTo(x+w-r,y);ctx.quadraticCurveTo(x+w,y,x+w,y+r);ctx.lineTo(x+w,y+hh-r);ctx.quadraticCurveTo(x+w,y+hh,x+w-r,y+hh);
  ctx.lineTo(x+r,y+hh);ctx.quadraticCurveTo(x,y+hh,x,y+hh-r);ctx.lineTo(x,y+r);ctx.quadraticCurveTo(x,y,x+r,y);ctx.closePath();
  ctx.fillStyle='rgba(228,228,228,0.9)';ctx.fill();ctx.strokeStyle='#c9c9c9';ctx.lineWidth=1;ctx.stroke();
  ctx.restore();
  text(ctx,'Trend: 未知',151,37,'bold 15px '+FONT,'#9a9a9a','left');
}
function before1H(ch,ctx,h){
  fvg1H.forEach(f=>fvgBand(ctx,h,f));
  rect(ctx,h.X(ob1H[0]),h.Y(ob1H[3]),h.X(ob1H[1]),h.Y(ob1H[2]),'rgba(56,142,60,0.5)','rgba(46,125,50,0.75)',1.2);
}
function after1H(ch,ctx,h){
  text(ctx,'OB↑',1134,h.Y(1.07207),'bold 20px '+FONT,'rgba(102,187,106,0.45)','left');
  text(ctx,'FVG↑ 1.0770',h.a.right,h.Y(1.0780),'bold 14px '+FONT,'rgba(46,139,62,0.9)','right');
  text(ctx,'FVG↓ 1.0743',h.a.right,h.Y(1.07335),'bold 14px '+FONT,'rgba(211,47,47,0.85)','right');
}
function before15(ch,ctx,h){ fvg15.forEach(f=>fvgBand(ctx,h,f)); }
function after15(ch,ctx,h){
  text(ctx,'FVG↓ 1.0772',h.a.right,h.Y(1.07618),'bold 14px '+FONT,'rgba(211,47,47,0.85)','right');
  text(ctx,'OB↓',1139,h.Y(1.06505),'bold 22px '+FONT,'rgba(214,90,90,0.8)','left');
}
function before3m(ch,ctx,h){
  hline(ctx,h.a,h.Y(eq3m[0]),'rgba(211,47,47,0.75)',1.8,[6,4]);
  hline(ctx,h.a,h.Y(eq3m[1]),'rgba(46,160,67,0.85)',1.8,[6,4]);
  fvg3m.forEach(f=>fvgBand(ctx,h,f));
  text(ctx,'FVG↓ 1.0662',h.a.right,h.Y(1.06593),'bold 14px '+FONT,'rgba(211,47,47,0.85)','right');
}
function after3m(ch,ctx,h){
  text(ctx,'EQH',h.a.right-3,h.Y(1.07224),'bold 16px '+FONT,'rgba(205,70,70,0.75)','right');
  text(ctx,'EQL',h.a.right-3,h.Y(1.07056),'bold 16px '+FONT,'rgba(46,150,62,0.8)','right');
}

const PANELS = [
 {C:c4H,V:v4H,xl:x4H,xs:20,yr:yr4H,yt:yt4H,dec:2,vr:vr4H,vt:vt4H,vdec:0,mk:mk4H,title:'4H  XRP',leg:LEG_MA,before:before4H,after:after4H},
 {C:c1H,V:v1H,xl:x1H,xs:20,yr:yr1H,yt:yt1H,dec:2,vr:vr1H,vt:vt1H,vdec:0,mk:mk1H,title:'1H  XRP',leg:LEG_SMC,before:before1H,after:after1H},
 {C:c15,V:v15,xl:x15,xs:25,yr:yr15,yt:yt15,dec:2,vr:vr15,vt:vt15,vdec:0,mk:mk15,title:'15m  XRP',leg:LEG_SMC,before:before15,after:after15},
 {C:c3m,V:v3m,xl:x3m,xs:25,yr:yr3m,yt:yt3m,dec:3,vr:vr3m,vt:vt3m,vdec:1,mk:mk3m,title:'3m  XRP',leg:LEG_3M,before:before3m,after:after3m}
];

// ================= CHARTS =================
function xScale(P,vol){
  const N=P.C.length;
  return {type:'linear',min:-0.5,max:N-0.5,offset:false,
    grid:{display:true,color:GRID,lineWidth:0.8,drawTicks:vol,tickLength:5,tickColor:'#333',tickWidth:1,offset:false},
    border:{display:false,dash:[2,3]},
    ticks:{display:false},
    afterBuildTicks:s=>{s.ticks=P.xl.map((_,k)=>({value:k*P.xs}));},
    afterFit:s=>{s.height=vol?64:0;s.paddingLeft=0;s.paddingRight=0;}};
}
function yScale(min,max,ticks,dec,size){
  return {type:'linear',position:'left',min,max,beginAtZero:false,
    grid:{color:GRID,lineWidth:0.8,drawTicks:true,tickLength:5,tickColor:'#333',tickWidth:1},
    border:{display:false,dash:[2,3]},
    ticks:{color:'#222',font:{family:'"Noto Sans CJK SC"',size},padding:3,autoSkip:false,callback:v=>Number(v).toFixed(dec)},
    afterBuildTicks:s=>{s.ticks=ticks.map(v=>({value:v}));},
    afterFit:s=>{s.width=130;s.paddingTop=0;s.paddingBottom=0;}};
}

function buildPrice(cv,P){
  const N=P.C.length, sp=1041/N;
  const cols=P.C.map(r=>r[3]>=r[0]?RED:GREEN);
  const datasets=[];
  const kinds=[]; P.mk.forEach(m=>{if(!kinds.includes(m.k))kinds.push(m.k);});
  kinds.forEach(k=>{const st=MK[k];
    datasets.push({type:'line',showLine:false,data:P.mk.filter(m=>m.k===k).map(m=>({x:m.i,y:m.p})),
      pointRadius:st.r||5.5,pointHoverRadius:st.r||5.5,pointStyle:st.tri?'triangle':'circle',pointRotation:st.tri?180:0,
      pointBackgroundColor:st.open?'rgba(0,0,0,0)':st.c,pointBorderColor:st.open?st.c:(st.edge||'rgba(255,255,255,0.85)'),
      pointBorderWidth:st.open?2.5:1,order:0});});
  [5,10,20].forEach((n,j)=>datasets.push({type:'line',data:maPoints(P.C,n),borderColor:MA_COL[j],borderWidth:1.6,pointRadius:0,tension:0,order:1+j}));
  datasets.push({type:'bar',data:P.C.map((r,i)=>({x:i,y:[Math.min(r[0],r[3]),Math.max(r[0],r[3])]})),backgroundColor:cols,borderWidth:0,grouped:false,maxBarThickness:sp*0.6,minBarLength:1,order:5});
  datasets.push({type:'bar',data:P.C.map((r,i)=>({x:i,y:[r[2],r[1]]})),backgroundColor:cols,borderWidth:0,grouped:false,maxBarThickness:1.1,order:6});
  const plug={id:'pdeco',
    beforeDatasetsDraw(ch){const ctx=ch.ctx,h=hp(ch);ctx.save();ctx.beginPath();ctx.rect(h.a.left,h.a.top,h.a.right-h.a.left,h.a.bottom-h.a.top);ctx.clip();P.before(ch,ctx,h);ctx.restore();},
    afterDatasetsDraw(ch){const ctx=ch.ctx,h=hp(ch);ctx.save();
      P.after(ch,ctx,h);
      frame(ctx,h.a);
      text(ctx,P.title,600,57,'18px '+FONT,'#111','center');
      vlabel(ctx,'Price',76,(h.a.top+h.a.bottom)/2,'16px '+FONT);
      drawLegend(ctx,P.leg);
      ctx.restore();}};
  return new Chart(cv,{type:'bar',data:{datasets},
    options:{responsive:false,animation:false,events:[],
      layout:{autoPadding:false,padding:{top:17,right:29,bottom:3,left:0}},
      plugins:{legend:{display:false},tooltip:{enabled:false}},
      scales:{x:xScale(P,false),y:yScale(P.yr[0],P.yr[1],P.yt,P.dec,15)}},
    plugins:[plug]});
}

function buildVol(cv,P){
  const N=P.V.length, sp=1041/N;
  const cols=P.C.map(r=>r[3]>=r[0]?VRED:VGREEN);
  const plug={id:'vdeco',
    afterDatasetsDraw(ch){const ctx=ch.ctx,h=hp(ch);ctx.save();
      frame(ctx,h.a);
      vlabel(ctx,'Volume  10⁶',89.5,(h.a.top+h.a.bottom)/2,'14px "DejaVu Sans"');
      ctx.font='13px "DejaVu Sans"';ctx.fillStyle='#222';ctx.textAlign='center';ctx.textBaseline='middle';
      P.xl.forEach((s,k)=>{const x=h.X(k*P.xs);const w=ctx.measureText(s).width;const cy=h.a.bottom+7+(w+13)*Math.SQRT1_2/2;
        ctx.save();ctx.translate(x,cy);ctx.rotate(-Math.PI/4);ctx.fillText(s,0,0);ctx.restore();});
      ctx.restore();}};
  return new Chart(cv,{type:'bar',
    data:{datasets:[{type:'bar',data:P.V.map((v,i)=>({x:i,y:v})),backgroundColor:cols,borderColor:'#2a78c8',borderWidth:0.9,grouped:false,maxBarThickness:sp*0.86,order:0}]},
    options:{responsive:false,animation:false,events:[],
      layout:{autoPadding:false,padding:{top:1,right:29,bottom:0,left:0}},
      plugins:{legend:{display:false},tooltip:{enabled:false}},
      scales:{x:xScale(P,true),y:yScale(P.vr[0],P.vr[1],P.vt,P.vdec,14)}},
    plugins:[plug]});
}

const wrap=document.getElementById('wrap');
PANELS.forEach((P,k)=>{
  const d=document.createElement('div');d.className='panel';d.style.top=(600*k)+'px';wrap.appendChild(d);
  const c1=document.createElement('canvas');c1.width=1200;c1.height=390;c1.style.top='0px';d.appendChild(c1);
  const c2=document.createElement('canvas');c2.width=1200;c2.height=213;c2.style.top='387px';d.appendChild(c2);
  buildPrice(c1,P);buildVol(c2,P);
});
const wm=document.createElement('div');wm.id='wm';wm.textContent='◈ @ 凌晨三点还在盯盘';wrap.appendChild(wm);
</script>
</body></html>
